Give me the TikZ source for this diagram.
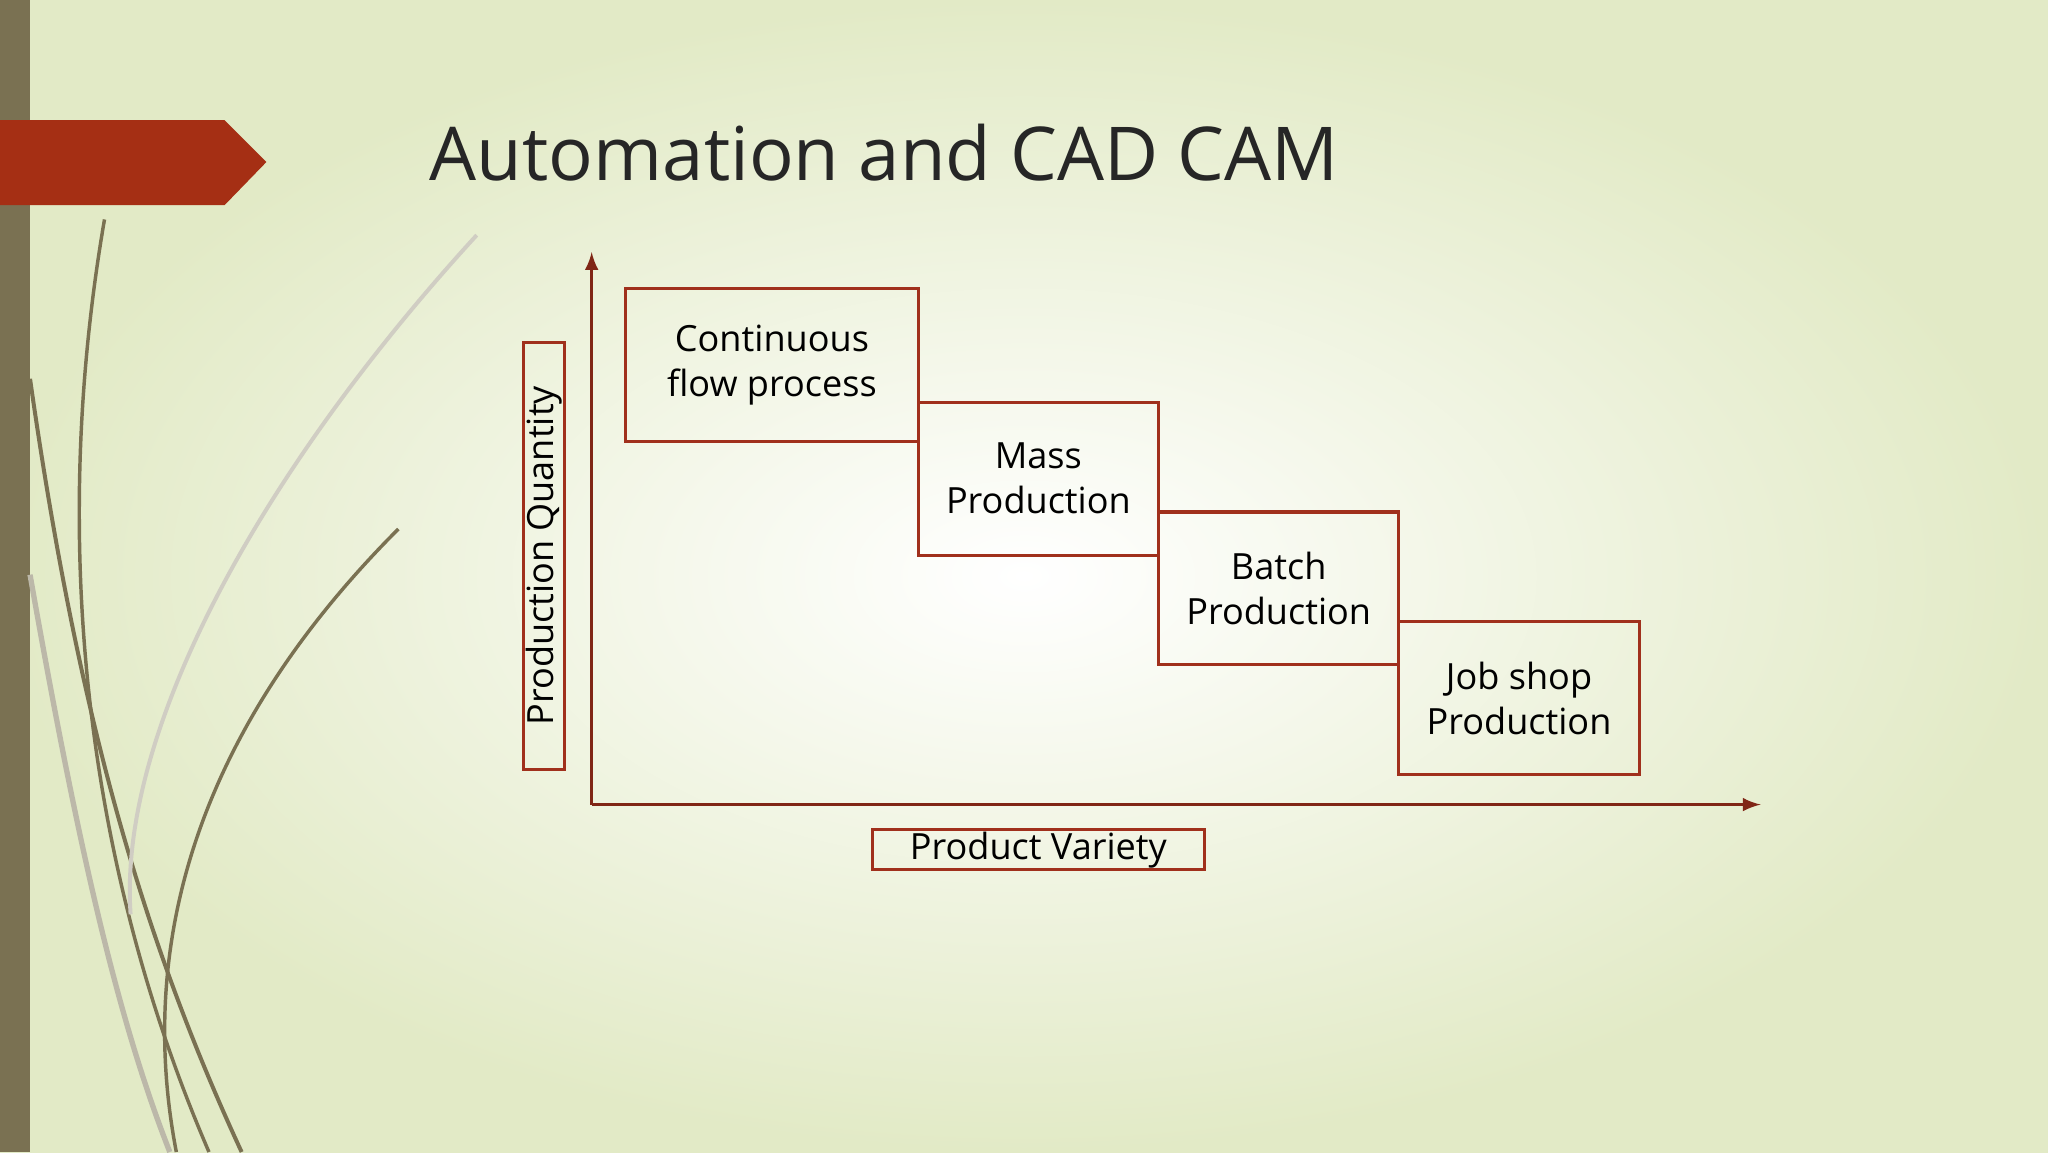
\documentclass[tikz,border=0pt]{standalone}
\usepackage{fontspec}
\setmainfont{Open Sans}
\definecolor{bord}{HTML}{A0301C}
\definecolor{olive}{HTML}{7A7152}
\definecolor{bg}{HTML}{E2EAC6}
\definecolor{banner}{HTML}{A52F14}
\begin{document}
\begin{tikzpicture}[x=0.0173cm,y=-0.0173cm,
  box/.style={draw=bord,line width=1.2pt,fill=white,fill opacity=0,text opacity=1,align=center,font=\fontsize{13.6}{17}\selectfont,inner sep=0pt},
  ax/.style={draw=bord!80!black,line width=1.3pt,-latex}]
\useasboundingbox (0,0) rectangle (1568,882);
\shade[inner color=white,outer color=bg] (0,0) rectangle (1568,882);
\fill[olive] (0,0) rectangle (23,882);
% grass
\draw[olive,line width=1.3pt] (80,168) .. controls (40,400) and (60,650) .. (160,882);
\draw[olive,line width=1.5pt] (23,290) .. controls (60,550) and (110,720) .. (185,882);
\draw[olive!50,line width=2pt] (23,440) .. controls (60,650) and (90,780) .. (130,882);
\draw[olive,line width=1.3pt] (305,405) .. controls (170,540) and (100,700) .. (135,882);
\draw[olive!35,line width=1.5pt] (365,180) .. controls (200,360) and (90,560) .. (100,700);
\fill[banner] (0,92) -- (172,92) -- (204,124) -- (172,157) -- (0,157) -- cycle;
\node[anchor=west,font=\fontsize{28}{32}\selectfont,text=black!85] (title) at (322,117) {Automation and CAD CAM};
\coordinate (o) at (453,616);
\coordinate (yt) at (453,193);
\coordinate (xt) at (1348,616);
\draw[ax] (o) -- (yt);
\draw[ax] (o) -- (xt);
\node[box,minimum width=224*0.0173cm,minimum height=117*0.0173cm] (b1) at (591,279.5) {Continuous\\flow process};
\node[box,minimum width=184*0.0173cm,minimum height=117*0.0173cm] (b2) at (795,366.5) {Mass\\Production};
\node[box,minimum width=184*0.0173cm,minimum height=117*0.0173cm] (b3) at (979,450.5) {Batch\\Production};
\node[box,minimum width=184*0.0173cm,minimum height=117*0.0173cm] (b4) at (1163,534.5) {Job shop\\Production};
\node[box,rotate=90,minimum width=327*0.0173cm,minimum height=31*0.0173cm] (yl) at (416.5,425.5) {Production Quantity};
\node[box,minimum width=254*0.0173cm,minimum height=31*0.0173cm] (xl) at (795,650.5) {Product Variety};
\end{tikzpicture}
\end{document}
